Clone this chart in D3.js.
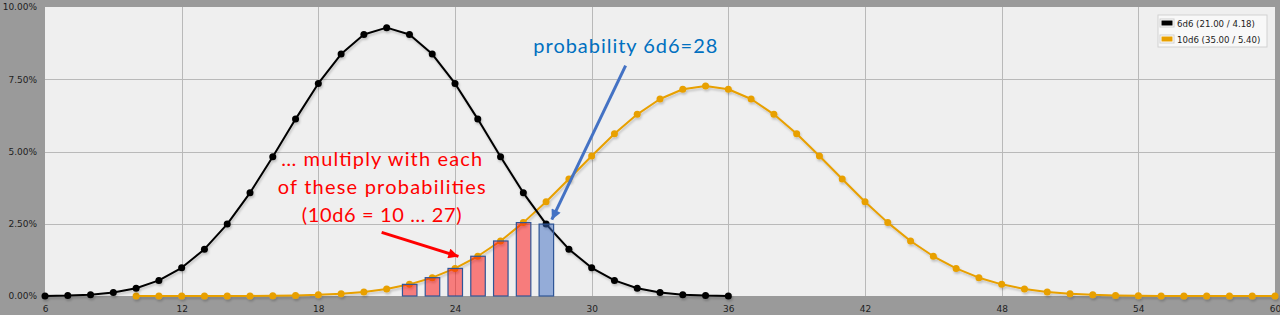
<!DOCTYPE html>
<html>
<head>
<meta charset="utf-8">
<script src="https://cdn.jsdelivr.net/npm/d3@7/dist/d3.min.js"></script>
<style>
  body { margin: 0; background: #9a9a9a; }
  svg { display: block; }
</style>
</head>
<body>
<div id="chart"></div>
<script>
// 6d6 distribution (percent)
const sums6d6 = [6, 7, 8, 9, 10, 11, 12, 13, 14, 15, 16, 17, 18, 19, 20, 21,
  22, 23, 24, 25, 26, 27, 28, 29, 30, 31, 32, 33, 34, 35, 36];
const probs6d6 = [0.002, 0.013, 0.045, 0.120, 0.270, 0.540, 0.977, 1.620, 2.488, 3.571, 4.816, 6.121, 7.354, 8.372, 9.047, 9.285,
  9.047, 8.372, 7.354, 6.121, 4.816, 3.571, 2.488, 1.620, 0.977, 0.540, 0.270, 0.120, 0.045, 0.013, 0.002];

// 10d6 distribution (percent)
const sums10d6 = [10, 11, 12, 13, 14, 15, 16, 17, 18, 19, 20, 21, 22, 23, 24, 25, 26, 27, 28, 29, 30, 31, 32, 33, 34, 35,
  36, 37, 38, 39, 40, 41, 42, 43, 44, 45, 46, 47, 48, 49, 50, 51, 52, 53, 54, 55, 56, 57, 58, 59, 60];
const probs10d6 = [0.000, 0.000, 0.000, 0.000, 0.001, 0.003, 0.008, 0.019, 0.039, 0.077, 0.141, 0.245, 0.403, 0.634, 0.954, 1.375, 1.904, 2.539, 3.262, 4.046, 4.846, 5.612, 6.287, 6.816, 7.153, 7.269,
  7.153, 6.816, 6.287, 5.612, 4.846, 4.046, 3.262, 2.539, 1.904, 1.375, 0.954, 0.634, 0.403, 0.245, 0.141, 0.077, 0.039, 0.019, 0.008, 0.003, 0.001, 0.000, 0.000, 0.000, 0.000];

// highlighted bars
const barSums = [22, 23, 24, 25, 26, 27, 28];
const barProbs = [0.403, 0.634, 0.954, 1.375, 1.904, 2.539, 2.488];
const barSeries = ["10d6", "10d6", "10d6", "10d6", "10d6", "10d6", "6d6"];

const xTicks = [6, 12, 18, 24, 30, 36, 42, 48, 54, 60];
const yTicks = [0, 2.5, 5, 7.5, 10];

const legendLabels = ["6d6 (21.00 / 4.18)", "10d6 (35.00 / 5.40)"];
const legendColors = ["#000000", "#e8a000"];

const redNote = ["\u2026 multiply with each", "of these probabilities", "(10d6 = 10 \u2026 27)"];
const blueNote = "probability 6d6=28";

const width = 1280;
const height = 315;
const margin = {top: 7, right: 5, bottom: 18, left: 45};

const svg = d3.select("#chart")
  .append("svg")
  .attr("width", width)
  .attr("height", height);

const xScale = d3.scaleLinear().domain([6, 60]).range([margin.left, width - margin.right]);
const yScale = d3.scaleLinear().domain([0, 10]).range([height - margin.bottom - 1, margin.top]);

// drop shadow for the lines
const defs = svg.append("defs");
defs.append("filter")
  .attr("id", "shadow")
  .attr("x", "-5%").attr("y", "-5%").attr("width", "110%").attr("height", "120%")
  .append("feDropShadow")
  .attr("dx", 1).attr("dy", 2).attr("stdDeviation", 1)
  .attr("flood-color", "#000").attr("flood-opacity", 0.2);

function arrowMarker(id, color) {
  defs.append("marker")
    .attr("id", id)
    .attr("viewBox", "0 0 10 10")
    .attr("refX", 10).attr("refY", 5)
    .attr("markerUnits", "userSpaceOnUse")
    .attr("markerWidth", 11).attr("markerHeight", 10)
    .attr("orient", "auto")
    .append("path")
    .attr("d", "M0,0L10,5L0,10Z")
    .attr("fill", color);
}
arrowMarker("arrowRed", "#ff0000");
arrowMarker("arrowBlue", "#4472c4");

// plot background
svg.append("rect")
  .attr("x", xScale(6))
  .attr("y", yScale(10))
  .attr("width", xScale(60) - xScale(6))
  .attr("height", yScale(0) - yScale(10))
  .attr("fill", "#efefef");

// grid
svg.append("g")
  .selectAll("line")
  .data(xTicks.slice(1, -1))
  .join("line")
  .attr("x1", d => Math.round(xScale(d)) + 0.5)
  .attr("x2", d => Math.round(xScale(d)) + 0.5)
  .attr("y1", yScale(10))
  .attr("y2", yScale(0))
  .attr("stroke", "#b9b9b9");

svg.append("g")
  .selectAll("line")
  .data(yTicks.slice(1, -1))
  .join("line")
  .attr("x1", xScale(6))
  .attr("x2", xScale(60))
  .attr("y1", d => Math.round(yScale(d)) + 0.5)
  .attr("y2", d => Math.round(yScale(d)) + 0.5)
  .attr("stroke", "#b9b9b9");

// series
const series = [
  {sums: sums10d6, probs: probs10d6, color: legendColors[1]},
  {sums: sums6d6, probs: probs6d6, color: legendColors[0]}
];

const line = d3.line()
  .x(d => xScale(d[0]))
  .y(d => yScale(d[1]));

series.forEach(function (s) {
  const pts = s.sums.map((v, i) => [v, s.probs[i]]);
  const g = svg.append("g").attr("filter", "url(#shadow)");
  g.append("path")
    .attr("d", line(pts))
    .attr("fill", "none")
    .attr("stroke", s.color)
    .attr("stroke-width", 2)
    .attr("stroke-linejoin", "round");
  g.selectAll("circle")
    .data(pts)
    .join("circle")
    .attr("cx", d => xScale(d[0]))
    .attr("cy", d => yScale(d[1]))
    .attr("r", 3.5)
    .attr("fill", s.color);
});

// bars (semi transparent, on top of the lines)
svg.append("g")
  .selectAll("rect")
  .data(barSums)
  .join("rect")
  .attr("x", d => xScale(d) - 7)
  .attr("width", 14.5)
  .attr("y", (d, i) => yScale(barProbs[i]))
  .attr("height", (d, i) => yScale(0) - yScale(barProbs[i]))
  .attr("fill", (d, i) => barSeries[i] === "6d6" ? "rgba(58,106,194,0.5)" : "rgba(255,10,10,0.5)")
  .attr("stroke", "#2f5597")
  .attr("stroke-width", 1.2);

// annotations
const noteFont = "Lato, 'Open Sans', sans-serif";
const redWidths = [201, 208, 160];
svg.append("g")
  .selectAll("text")
  .data(redNote)
  .join("text")
  .attr("x", xScale(20.78))
  .attr("y", (d, i) => yScale(4.51) + i * 28.2)
  .attr("text-anchor", "middle")
  .attr("font-family", noteFont)
  .attr("font-size", 20)
  .attr("fill", "#ff0000")
  .attr("textLength", (d, i) => redWidths[i])
  .attr("lengthAdjust", "spacing")
  .text(d => d);

svg.append("line")
  .attr("x1", xScale(20.78)).attr("y1", yScale(2.20))
  .attr("x2", xScale(24.15)).attr("y2", yScale(1.37))
  .attr("stroke", "#ff0000")
  .attr("stroke-width", 3)
  .attr("marker-end", "url(#arrowRed)");

svg.append("text")
  .attr("x", xScale(27.44))
  .attr("y", yScale(8.40))
  .attr("font-family", noteFont)
  .attr("font-size", 20)
  .attr("fill", "#0070c0")
  .attr("textLength", 184)
  .attr("lengthAdjust", "spacing")
  .text(blueNote);

svg.append("line")
  .attr("x1", xScale(31.49)).attr("y1", yScale(7.97))
  .attr("x2", xScale(28.25)).attr("y2", yScale(2.64))
  .attr("stroke", "#4472c4")
  .attr("stroke-width", 3)
  .attr("marker-end", "url(#arrowBlue)");

// axes
const yAxis = d3.axisLeft(yScale)
  .tickValues(yTicks)
  .tickSize(0)
  .tickPadding(8)
  .tickFormat(d => d.toFixed(2) + "%");

const xAxis = d3.axisBottom(xScale)
  .tickValues(xTicks)
  .tickSize(0)
  .tickPadding(10);

const yAxisGroup = svg.append("g")
  .attr("transform", `translate(${margin.left},0)`)
  .call(yAxis);

const xAxisGroup = svg.append("g")
  .attr("transform", `translate(0,${yScale(0)})`)
  .call(xAxis);

[yAxisGroup, xAxisGroup].forEach(function (g) {
  g.select(".domain").remove();
  g.selectAll("text")
    .attr("font-family", "'DejaVu Sans', Verdana, sans-serif")
    .attr("font-size", 9)
    .attr("fill", "#1e1e1e");
});

// legend
const legend = svg.append("g").attr("transform", "translate(1158,15)");
legend.append("rect")
  .attr("width", 109)
  .attr("height", 32)
  .attr("fill", "#f8f8f8")
  .attr("stroke", "#d2d2d2");

const rows = legend.selectAll("g")
  .data(legendLabels)
  .join("g")
  .attr("transform", (d, i) => `translate(0,${8.5 + i * 16})`);

rows.append("rect")
  .attr("x", 2).attr("y", -4.5)
  .attr("width", 14).attr("height", 8)
  .attr("fill", "#fff")
  .attr("stroke", "#d0d0d0");

rows.append("rect")
  .attr("x", 3.5).attr("y", -3)
  .attr("width", 11).attr("height", 5)
  .attr("fill", (d, i) => legendColors[i]);

rows.append("text")
  .attr("x", 19)
  .attr("y", 0)
  .attr("dy", "0.35em")
  .attr("font-family", "'DejaVu Sans', Verdana, sans-serif")
  .attr("font-size", 8.6)
  .attr("fill", "#222")
  .text(d => d);
</script>
</body>
</html>
